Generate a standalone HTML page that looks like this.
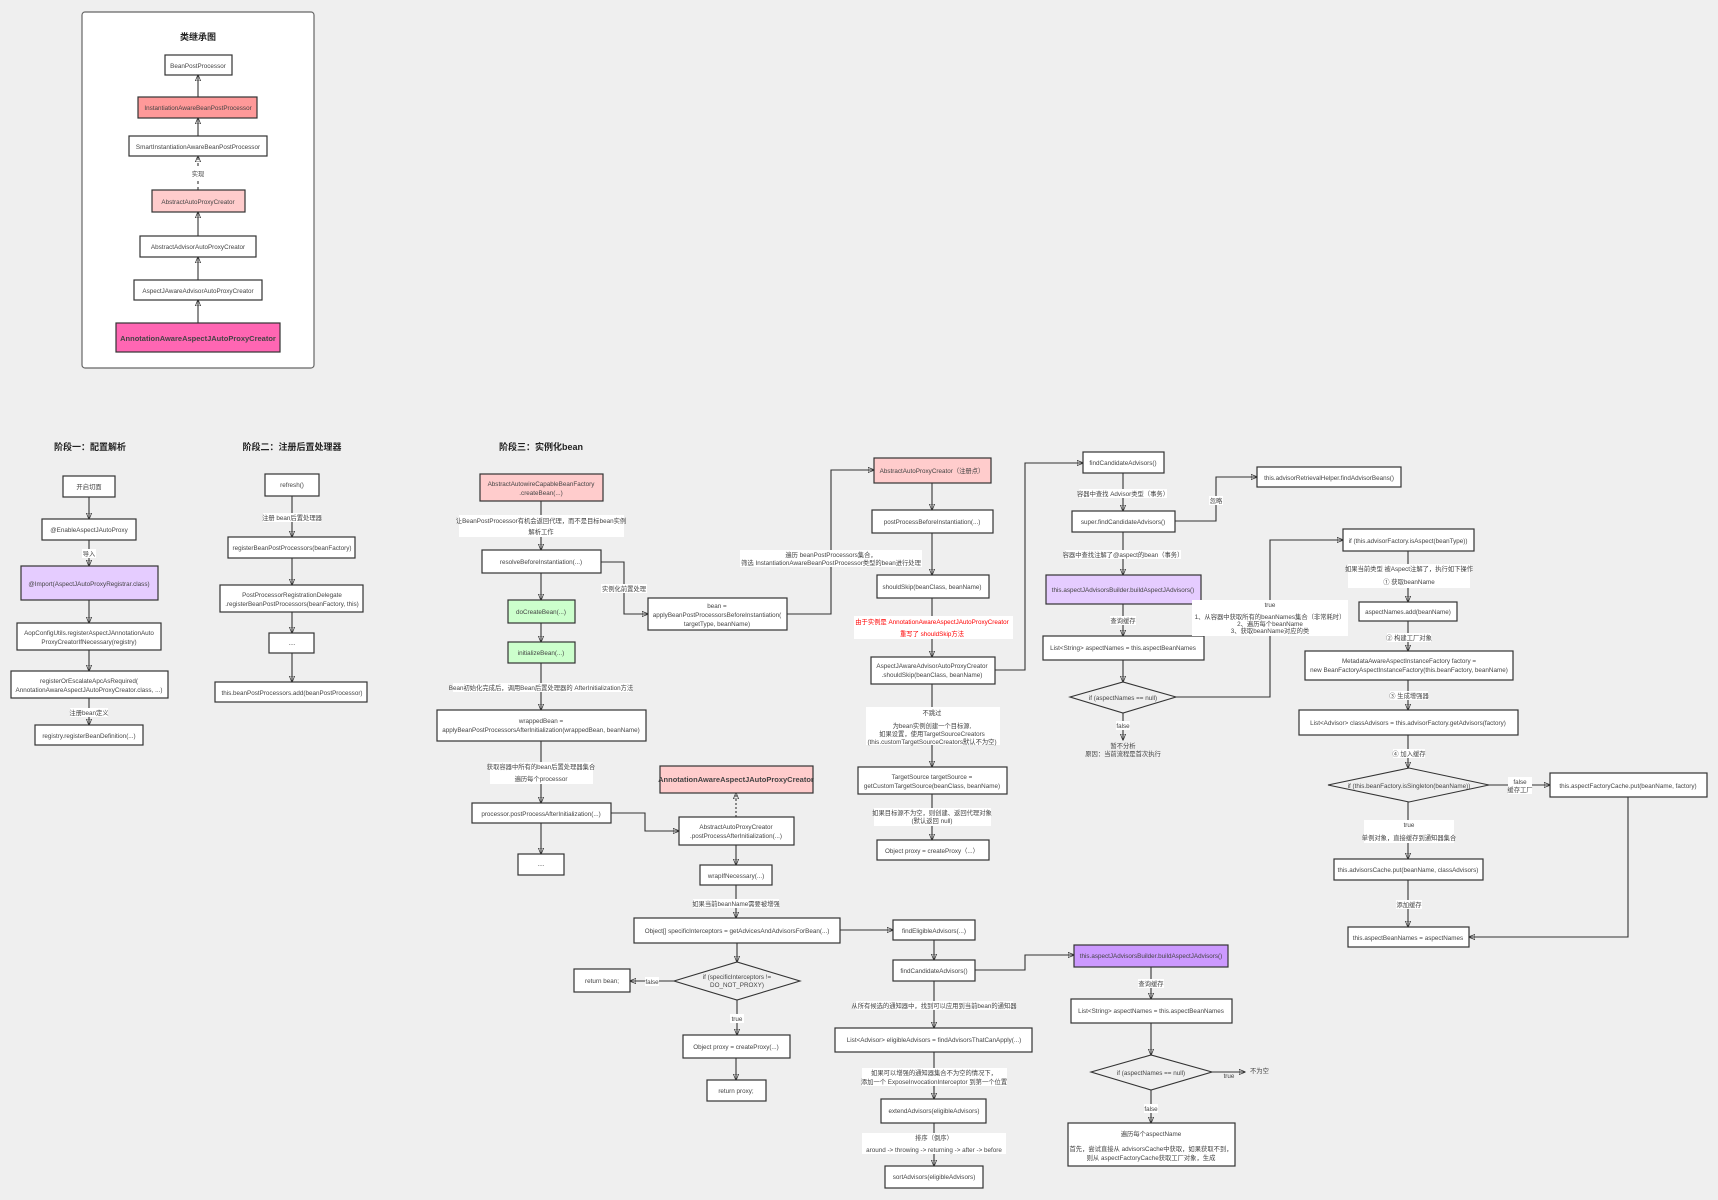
<!DOCTYPE html>
<html><head><meta charset="utf-8"><style>
html,body{margin:0;padding:0;background:#efefef;}
svg{display:block;}
text{font-family:"Liberation Sans","Noto Sans CJK SC",sans-serif;font-size:6.3px;fill:#444;}
.t{font-size:9px;font-weight:bold;fill:#222;}
.b rect,rect.b{stroke:#333;stroke-width:1.2;}
line,path{stroke:#333;stroke-width:1.1;fill:none;}
.lb{fill:#fff;stroke:none;}
</style></head><body>
<svg width="1718" height="1200" viewBox="0 0 1718 1200" xmlns="http://www.w3.org/2000/svg">
<defs><marker id="a" viewBox="0 0 10 10" refX="9" refY="5" markerWidth="6" markerHeight="6" orient="auto"><path d="M0,1 L10,5 L0,9 z" fill="#333" stroke="none"/></marker></defs>
<rect width="1718" height="1200" fill="#efefef"/>

<!-- hierarchy -->
<rect x="82" y="12" width="232" height="356" rx="3" fill="#fff" stroke="#666" stroke-width="1.2"/>
<text class="t" x="198" y="40" text-anchor="middle">类继承图</text>
<g text-anchor="middle">
<rect class="b" x="165" y="55" width="67" height="20" fill="#fff"/><text x="198" y="68">BeanPostProcessor</text>
<rect class="b" x="138" y="97" width="119" height="21" fill="#ff9999"/><text x="198" y="110">InstantiationAwareBeanPostProcessor</text>
<rect class="b" x="129" y="136" width="138" height="20" fill="#fff"/><text x="198" y="149">SmartInstantiationAwareBeanPostProcessor</text>
<rect class="b" x="152" y="190" width="93" height="22" fill="#ffcccc"/><text x="198" y="204">AbstractAutoProxyCreator</text>
<rect class="b" x="140" y="236" width="116" height="21" fill="#fff"/><text x="198" y="249">AbstractAdvisorAutoProxyCreator</text>
<rect class="b" x="134" y="280" width="128" height="20" fill="#fff"/><text x="198" y="293">AspectJAwareAdvisorAutoProxyCreator</text>
<rect class="b" x="116" y="323" width="164" height="29" fill="#ff66b3"/><text x="198" y="341" style="font-weight:bold;font-size:7.5px">AnnotationAwareAspectJAutoProxyCreator</text>
</g>
<line x1="198" y1="97" x2="198" y2="75" marker-end="url(#a)"/>
<line x1="198" y1="136" x2="198" y2="118" marker-end="url(#a)"/>
<line x1="198" y1="190" x2="198" y2="156" stroke-dasharray="3,3" marker-end="url(#a)"/>
<rect class="lb" x="191" y="169" width="14" height="9"/><text x="198" y="176" text-anchor="middle">实现</text>
<line x1="198" y1="236" x2="198" y2="212" marker-end="url(#a)"/>
<line x1="198" y1="280" x2="198" y2="257" marker-end="url(#a)"/>
<line x1="198" y1="323" x2="198" y2="300" marker-end="url(#a)"/>

<!-- phase 1 -->
<text class="t" x="90" y="450" text-anchor="middle">阶段一：配置解析</text>
<g text-anchor="middle">
<rect class="b" x="63" y="476" width="52" height="21" fill="#fff"/><text x="89" y="489">开启切面</text>
<rect class="b" x="42" y="519" width="94" height="21" fill="#fff"/><text x="89" y="532">@EnableAspectJAutoProxy</text>
<rect class="b" x="21" y="566" width="137" height="34" fill="#e5ccff"/><text x="89" y="586">@Import(AspectJAutoProxyRegistrar.class)</text>
<rect class="b" x="17" y="623" width="144" height="27" fill="#fff"/><text x="89" y="635">AopConfigUtils.registerAspectJAnnotationAuto</text><text x="89" y="644">ProxyCreatorIfNecessary(registry)</text>
<rect class="b" x="11" y="671" width="157" height="27" fill="#fff"/><text x="89" y="683">registerOrEscalateApcAsRequired(</text><text x="89" y="692">AnnotationAwareAspectJAutoProxyCreator.class, ...)</text>
<rect class="b" x="35" y="725" width="108" height="20" fill="#fff"/><text x="89" y="738">registry.registerBeanDefinition(...)</text>
</g>
<line x1="89" y1="497" x2="89" y2="519" marker-end="url(#a)"/>
<line x1="89" y1="540" x2="89" y2="566" marker-end="url(#a)"/>
<rect class="lb" x="82" y="549" width="14" height="9"/><text x="89" y="556" text-anchor="middle">导入</text>
<line x1="89" y1="600" x2="89" y2="623" marker-end="url(#a)"/>
<line x1="89" y1="650" x2="89" y2="671" marker-end="url(#a)"/>
<line x1="89" y1="698" x2="89" y2="725" marker-end="url(#a)"/>
<rect class="lb" x="70" y="708" width="38" height="9"/><text x="89" y="715" text-anchor="middle">注册bean定义</text>

<!-- phase 2 -->
<text class="t" x="292" y="450" text-anchor="middle">阶段二：注册后置处理器</text>
<g text-anchor="middle">
<rect class="b" x="265" y="474" width="54" height="22" fill="#fff"/><text x="292" y="487">refresh()</text>
<rect class="b" x="228" y="537" width="127" height="21" fill="#fff"/><text x="292" y="550">registerBeanPostProcessors(beanFactory)</text>
<rect class="b" x="220" y="585" width="143" height="27" fill="#fff"/><text x="292" y="597">PostProcessorRegistrationDelegate</text><text x="292" y="606">.registerBeanPostProcessors(beanFactory, this)</text>
<rect class="b" x="269" y="633" width="45" height="20" fill="#fff"/><text x="292" y="645">....</text>
<rect class="b" x="215" y="682" width="152" height="20" fill="#fff"/><text x="292" y="695">this.beanPostProcessors.add(beanPostProcessor)</text>
</g>
<line x1="292" y1="496" x2="292" y2="537" marker-end="url(#a)"/>
<rect class="lb" x="263" y="513" width="58" height="9"/><text x="292" y="520" text-anchor="middle">注册 bean后置处理器</text>
<line x1="292" y1="558" x2="292" y2="585" marker-end="url(#a)"/>
<line x1="292" y1="612" x2="292" y2="633" marker-end="url(#a)"/>
<line x1="292" y1="653" x2="292" y2="682" marker-end="url(#a)"/>

<!-- phase 3 -->
<text class="t" x="541" y="450" text-anchor="middle">阶段三：实例化bean</text>
<g text-anchor="middle">
<rect class="b" x="480" y="474" width="123" height="27" fill="#ffcccc"/><text x="541" y="486">AbstractAutowireCapableBeanFactory</text><text x="541" y="495">.createBean(...)</text>
<rect class="b" x="482" y="550" width="119" height="23" fill="#fff"/><text x="541" y="564">resolveBeforeInstantiation(...)</text>
<rect class="b" x="508" y="600" width="67" height="23" fill="#ccffcc"/><text x="541" y="614">doCreateBean(...)</text>
<rect class="b" x="508" y="642" width="67" height="21" fill="#ccffcc"/><text x="541" y="655">initializeBean(...)</text>
<rect class="b" x="437" y="710" width="209" height="31" fill="#fff"/><text x="541" y="723">wrappedBean =</text><text x="541" y="732">applyBeanPostProcessorsAfterInitialization(wrappedBean, beanName)</text>
<rect class="b" x="472" y="803" width="139" height="20" fill="#fff"/><text x="541" y="816">processor.postProcessAfterInitialization(...)</text>
<rect class="b" x="518" y="854" width="46" height="21" fill="#fff"/><text x="541" y="866">....</text>
<rect class="b" x="648" y="598" width="139" height="32" fill="#fff"/><text x="717" y="608">bean =</text><text x="717" y="617">applyBeanPostProcessorsBeforeInstantiation(</text><text x="717" y="626">targetType, beanName)</text>
</g>
<line x1="541" y1="501" x2="541" y2="550" marker-end="url(#a)"/>
<rect class="lb" x="459" y="515" width="165" height="22"/>
<text x="541" y="523" text-anchor="middle">让BeanPostProcessor有机会返回代理，而不是目标bean实例</text>
<text x="541" y="534" text-anchor="middle">解析工作</text>
<line x1="541" y1="573" x2="541" y2="600" marker-end="url(#a)"/>
<line x1="541" y1="623" x2="541" y2="642" marker-end="url(#a)"/>
<line x1="541" y1="663" x2="541" y2="710" marker-end="url(#a)"/>
<rect class="lb" x="453" y="683" width="178" height="9"/><text x="541" y="690" text-anchor="middle">Bean初始化完成后，调用Bean后置处理器的 AfterInitialization方法</text>
<line x1="541" y1="741" x2="541" y2="803" marker-end="url(#a)"/>
<rect class="lb" x="490" y="762" width="103" height="22"/>
<text x="541" y="769" text-anchor="middle">获取容器中所有的bean后置处理器集合</text>
<text x="541" y="781" text-anchor="middle">遍历每个processor</text>
<line x1="541" y1="823" x2="541" y2="854" marker-end="url(#a)"/>
<path d="M601,562 H624 V614 H648" marker-end="url(#a)"/>
<rect class="lb" x="601" y="584" width="46" height="9"/><text x="624" y="591" text-anchor="middle">实例化前置处理</text>
<path d="M787,614 H831 V470 H874" marker-end="url(#a)"/>
<rect class="lb" x="740" y="550" width="182" height="17"/>
<text x="831" y="557" text-anchor="middle">遍历 beanPostProcessors集合，</text>
<text x="831" y="565" text-anchor="middle">筛选 InstantiationAwareBeanPostProcessor类型的bean进行处理</text>

<g text-anchor="middle">
<rect class="b" x="874" y="458" width="117" height="25" fill="#ffcccc"/><text x="932" y="473">AbstractAutoProxyCreator（注册点）</text>
<rect class="b" x="872" y="510" width="121" height="23" fill="#fff"/><text x="932" y="524">postProcessBeforeInstantiation(...)</text>
<rect class="b" x="877" y="575" width="112" height="23" fill="#fff"/><text x="932" y="589">shouldSkip(beanClass, beanName)</text>
<rect class="b" x="871" y="657" width="124" height="27" fill="#fff"/><text x="932" y="668">AspectJAwareAdvisorAutoProxyCreator</text><text x="932" y="677">.shouldSkip(beanClass, beanName)</text>
<rect class="b" x="858" y="767" width="149" height="27" fill="#fff"/><text x="932" y="779">TargetSource targetSource =</text><text x="932" y="788">getCustomTargetSource(beanClass, beanName)</text>
<rect class="b" x="877" y="840" width="112" height="20" fill="#fff"/><text x="932" y="853">Object proxy = createProxy（...）</text>
</g>
<line x1="932" y1="483" x2="932" y2="510" marker-end="url(#a)"/>
<line x1="932" y1="533" x2="932" y2="575" marker-end="url(#a)"/>
<line x1="932" y1="598" x2="932" y2="657" marker-end="url(#a)"/>
<rect class="lb" x="854" y="616" width="159" height="23"/>
<text x="932" y="624" text-anchor="middle" style="fill:#f00">由于实例是 AnnotationAwareAspectJAutoProxyCreator</text>
<text x="932" y="636" text-anchor="middle" style="fill:#f00">重写了 shouldSkip方法</text>
<line x1="932" y1="684" x2="932" y2="767" marker-end="url(#a)"/>
<rect class="lb" x="866" y="707" width="134" height="38"/>
<text x="932" y="715" text-anchor="middle">不跳过</text>
<text x="932" y="728" text-anchor="middle">为bean实例创建一个目标源,</text>
<text x="932" y="736" text-anchor="middle">如果设置，使用TargetSourceCreators</text>
<text x="932" y="744" text-anchor="middle">(this.customTargetSourceCreators默认不为空)</text>
<line x1="932" y1="794" x2="932" y2="840" marker-end="url(#a)"/>
<rect class="lb" x="874" y="808" width="117" height="18"/>
<text x="932" y="815" text-anchor="middle">如果目标源不为空，则创建、返回代理对象</text>
<text x="932" y="823" text-anchor="middle">(默认返回 null)</text>
<path d="M995,670 H1025 V463 H1083" marker-end="url(#a)"/>

<!-- bottom middle -->
<g text-anchor="middle">
<rect class="b" x="660" y="766" width="153" height="27" fill="#ffcccc"/><text x="736" y="782" style="font-weight:bold;font-size:7.5px">AnnotationAwareAspectJAutoProxyCreator</text>
<rect class="b" x="679" y="817" width="115" height="28" fill="#fff"/><text x="736" y="829">AbstractAutoProxyCreator</text><text x="736" y="838">.postProcessAfterInitialization(...)</text>
<rect class="b" x="700" y="865" width="72" height="20" fill="#fff"/><text x="736" y="878">wrapIfNecessary(...)</text>
<rect class="b" x="634" y="918" width="206" height="25" fill="#fff"/><text x="737" y="933">Object[] specificInterceptors = getAdvicesAndAdvisorsForBean(...)</text>
<path d="M674,981 L737,962 L800,981 L737,1000 Z" fill="#fff" stroke="#333" stroke-width="1.1"/>
<text x="737" y="979">if (specificInterceptors !=</text><text x="737" y="987">DO_NOT_PROXY)</text>
<rect class="b" x="574" y="969" width="56" height="23" fill="#fff"/><text x="602" y="983">return bean;</text>
<rect class="b" x="683" y="1035" width="107" height="23" fill="#fff"/><text x="736" y="1049">Object proxy = createProxy(...)</text>
<rect class="b" x="707" y="1080" width="59" height="21" fill="#fff"/><text x="736" y="1093">return proxy;</text>
<rect class="b" x="893" y="920" width="82" height="20" fill="#fff"/><text x="934" y="933">findEligibleAdvisors(...)</text>
<rect class="b" x="893" y="960" width="82" height="21" fill="#fff"/><text x="934" y="973">findCandidateAdvisors()</text>
<rect class="b" x="835" y="1028" width="197" height="24" fill="#fff"/><text x="934" y="1042">List&lt;Advisor&gt; eligibleAdvisors = findAdvisorsThatCanApply(...)</text>
<rect class="b" x="881" y="1099" width="105" height="24" fill="#fff"/><text x="934" y="1113">extendAdvisors(eligibleAdvisors)</text>
<rect class="b" x="885" y="1166" width="98" height="22" fill="#fff"/><text x="934" y="1179">sortAdvisors(eligibleAdvisors)</text>
<rect class="b" x="1074" y="945" width="154" height="22" fill="#cc99ff"/><text x="1151" y="958">this.aspectJAdvisorsBuilder.buildAspectJAdvisors()</text>
<rect class="b" x="1071" y="999" width="161" height="24" fill="#fff"/><text x="1151" y="1013">List&lt;String&gt; aspectNames = this.aspectBeanNames</text>
<path d="M1091,1072 L1151,1055 L1212,1072 L1151,1090 Z" fill="#fff" stroke="#333" stroke-width="1.1"/>
<text x="1151" y="1075">if (aspectNames == null)</text>
<rect class="b" x="1068" y="1123" width="167" height="43" fill="#fff"/><text x="1151" y="1136">遍历每个aspectName</text><text x="1151" y="1151">首先，尝试直接从 advisorsCache中获取，如果获取不到，</text><text x="1151" y="1160">则从 aspectFactoryCache获取工厂对象，生成</text>
</g>
<line x1="736" y1="817" x2="736" y2="793" stroke-dasharray="2,2" marker-end="url(#a)"/>
<path d="M611,813 H645 V831 H679" marker-end="url(#a)"/>
<line x1="736" y1="845" x2="736" y2="865" marker-end="url(#a)"/>
<line x1="736" y1="885" x2="736" y2="918" marker-end="url(#a)"/>
<rect class="lb" x="693" y="899" width="86" height="9"/><text x="736" y="906" text-anchor="middle">如果当前beanName需要被增强</text>
<line x1="737" y1="943" x2="737" y2="962" marker-end="url(#a)"/>
<line x1="674" y1="981" x2="630" y2="981" marker-end="url(#a)"/>
<rect class="lb" x="645" y="977" width="14" height="9"/><text x="652" y="984" text-anchor="middle">false</text>
<line x1="737" y1="1000" x2="737" y2="1035" marker-end="url(#a)"/>
<rect class="lb" x="730" y="1014" width="14" height="9"/><text x="737" y="1021" text-anchor="middle">true</text>
<line x1="736" y1="1058" x2="736" y2="1080" marker-end="url(#a)"/>
<line x1="840" y1="930" x2="893" y2="930" marker-end="url(#a)"/>
<line x1="934" y1="940" x2="934" y2="960" marker-end="url(#a)"/>
<line x1="934" y1="981" x2="934" y2="1028" marker-end="url(#a)"/>
<rect class="lb" x="856" y="1001" width="157" height="9"/><text x="934" y="1008" text-anchor="middle">从所有候选的通知器中，找到可以应用到当前bean的通知器</text>
<line x1="934" y1="1052" x2="934" y2="1099" marker-end="url(#a)"/>
<rect class="lb" x="862" y="1068" width="145" height="18"/>
<text x="934" y="1075" text-anchor="middle">如果可以增强的通知器集合不为空的情况下，</text>
<text x="934" y="1084" text-anchor="middle">添加一个 ExposeInvocationInterceptor 到第一个位置</text>
<line x1="934" y1="1123" x2="934" y2="1166" marker-end="url(#a)"/>
<rect class="lb" x="862" y="1133" width="144" height="21"/>
<text x="934" y="1140" text-anchor="middle">排序（倒序）</text>
<text x="934" y="1152" text-anchor="middle">around -&gt; throwing -&gt; returning -&gt; after -&gt; before</text>
<path d="M975,970 H1025 V955 H1074" marker-end="url(#a)"/>
<line x1="1151" y1="967" x2="1151" y2="999" marker-end="url(#a)"/>
<rect class="lb" x="1138" y="979" width="26" height="9"/><text x="1151" y="986" text-anchor="middle">查询缓存</text>
<line x1="1151" y1="1023" x2="1151" y2="1055" marker-end="url(#a)"/>
<line x1="1212" y1="1072" x2="1245" y2="1072" marker-end="url(#a)"/>
<text x="1229" y="1078" text-anchor="middle">true</text>
<text x="1250" y="1073">不为空</text>
<line x1="1151" y1="1090" x2="1151" y2="1123" marker-end="url(#a)"/>
<rect class="lb" x="1144" y="1104" width="14" height="9"/><text x="1151" y="1111" text-anchor="middle">false</text>

<!-- right upper -->
<g text-anchor="middle">
<rect class="b" x="1083" y="452" width="81" height="21" fill="#fff"/><text x="1123" y="465">findCandidateAdvisors()</text>
<rect class="b" x="1072" y="511" width="103" height="21" fill="#fff"/><text x="1123" y="524">super.findCandidateAdvisors()</text>
<rect class="b" x="1257" y="467" width="144" height="20" fill="#fff"/><text x="1329" y="480">this.advisorRetrievalHelper.findAdvisorBeans()</text>
<rect class="b" x="1046" y="575" width="155" height="29" fill="#e5ccff"/><text x="1123" y="592">this.aspectJAdvisorsBuilder.buildAspectJAdvisors()</text>
<rect class="b" x="1043" y="636" width="161" height="24" fill="#fff"/><text x="1123" y="650">List&lt;String&gt; aspectNames = this.aspectBeanNames</text>
<path d="M1070,697 L1123,682 L1176,697 L1123,713 Z" fill="#fff" stroke="#333" stroke-width="1.1"/>
<text x="1123" y="700">if (aspectNames == null)</text>
<rect class="b" x="1343" y="529" width="131" height="22" fill="#fff"/><text x="1408" y="543">if (this.advisorFactory.isAspect(beanType))</text>
<rect class="b" x="1359" y="602" width="98" height="19" fill="#fff"/><text x="1408" y="614">aspectNames.add(beanName)</text>
<rect class="b" x="1305" y="651" width="208" height="29" fill="#fff"/><text x="1409" y="663">MetadataAwareAspectInstanceFactory factory =</text><text x="1409" y="672">new BeanFactoryAspectInstanceFactory(this.beanFactory, beanName)</text>
<rect class="b" x="1299" y="710" width="219" height="25" fill="#fff"/><text x="1408" y="725">List&lt;Advisor&gt; classAdvisors = this.advisorFactory.getAdvisors(factory)</text>
<path d="M1328,785 L1409,768 L1489,785 L1409,802 Z" fill="#fff" stroke="#333" stroke-width="1.1"/>
<text x="1409" y="788">if (this.beanFactory.isSingleton(beanName))</text>
<rect class="b" x="1550" y="773" width="157" height="24" fill="#fff"/><text x="1628" y="788">this.aspectFactoryCache.put(beanName, factory)</text>
<rect class="b" x="1334" y="859" width="149" height="21" fill="#fff"/><text x="1408" y="872">this.advisorsCache.put(beanName, classAdvisors)</text>
<rect class="b" x="1348" y="927" width="121" height="20" fill="#fff"/><text x="1408" y="940">this.aspectBeanNames = aspectNames</text>
</g>
<line x1="1123" y1="473" x2="1123" y2="511" marker-end="url(#a)"/>
<rect class="lb" x="1079" y="489" width="88" height="9"/><text x="1123" y="496" text-anchor="middle">容器中查找 Advisor类型（事务）</text>
<path d="M1175,521 H1216 V477 H1257" marker-end="url(#a)"/>
<rect class="lb" x="1209" y="496" width="14" height="9"/><text x="1216" y="503" text-anchor="middle">忽略</text>
<line x1="1123" y1="532" x2="1123" y2="575" marker-end="url(#a)"/>
<rect class="lb" x="1065" y="550" width="116" height="9"/><text x="1123" y="557" text-anchor="middle">容器中查找注解了@aspect的bean（事务）</text>
<line x1="1123" y1="604" x2="1123" y2="636" marker-end="url(#a)"/>
<rect class="lb" x="1110" y="616" width="26" height="9"/><text x="1123" y="623" text-anchor="middle">查询缓存</text>
<line x1="1123" y1="660" x2="1123" y2="682" marker-end="url(#a)"/>
<line x1="1123" y1="713" x2="1123" y2="740" marker-end="url(#a)"/>
<rect class="lb" x="1116" y="721" width="14" height="9"/><text x="1123" y="728" text-anchor="middle">false</text>
<text x="1123" y="748" text-anchor="middle">暂不分析</text>
<text x="1123" y="756" text-anchor="middle">原因：当前流程是首次执行</text>
<path d="M1176,697 H1270 V540 H1343" marker-end="url(#a)"/>
<rect class="lb" x="1192" y="600" width="156" height="36"/>
<text x="1270" y="607" text-anchor="middle">true</text>
<text x="1270" y="619" text-anchor="middle">1、从容器中获取所有的beanNames集合（非常耗时）</text>
<text x="1270" y="626" text-anchor="middle">2、遍历每个beanName</text>
<text x="1270" y="633" text-anchor="middle">3、获取beanName对应的类</text>
<line x1="1408" y1="551" x2="1408" y2="602" marker-end="url(#a)"/>
<rect class="lb" x="1348" y="564" width="122" height="24"/>
<text x="1409" y="571" text-anchor="middle">如果当前类型 被Aspect注解了，执行如下操作</text>
<text x="1409" y="584" text-anchor="middle">① 获取beanName</text>
<line x1="1408" y1="621" x2="1408" y2="651" marker-end="url(#a)"/>
<rect class="lb" x="1387" y="633" width="44" height="9"/><text x="1409" y="640" text-anchor="middle">② 构建工厂对象</text>
<line x1="1408" y1="680" x2="1408" y2="710" marker-end="url(#a)"/>
<rect class="lb" x="1390" y="691" width="38" height="9"/><text x="1409" y="698" text-anchor="middle">③ 生成增强器</text>
<line x1="1408" y1="735" x2="1408" y2="768" marker-end="url(#a)"/>
<rect class="lb" x="1393" y="749" width="32" height="9"/><text x="1409" y="756" text-anchor="middle">④ 加入缓存</text>
<line x1="1489" y1="785" x2="1550" y2="785" marker-end="url(#a)"/>
<rect class="lb" x="1508" y="777" width="24" height="17"/>
<text x="1520" y="784" text-anchor="middle">false</text><text x="1520" y="792" text-anchor="middle">缓存工厂</text>
<line x1="1408" y1="802" x2="1408" y2="859" marker-end="url(#a)"/>
<rect class="lb" x="1364" y="820" width="90" height="23"/>
<text x="1409" y="827" text-anchor="middle">true</text>
<text x="1409" y="840" text-anchor="middle">单例对象，直接缓存到通知器集合</text>
<line x1="1408" y1="880" x2="1408" y2="927" marker-end="url(#a)"/>
<rect class="lb" x="1396" y="900" width="26" height="9"/><text x="1409" y="907" text-anchor="middle">添加缓存</text>
<path d="M1628,797 V937 H1469" marker-end="url(#a)"/>
</svg>
</body></html>
